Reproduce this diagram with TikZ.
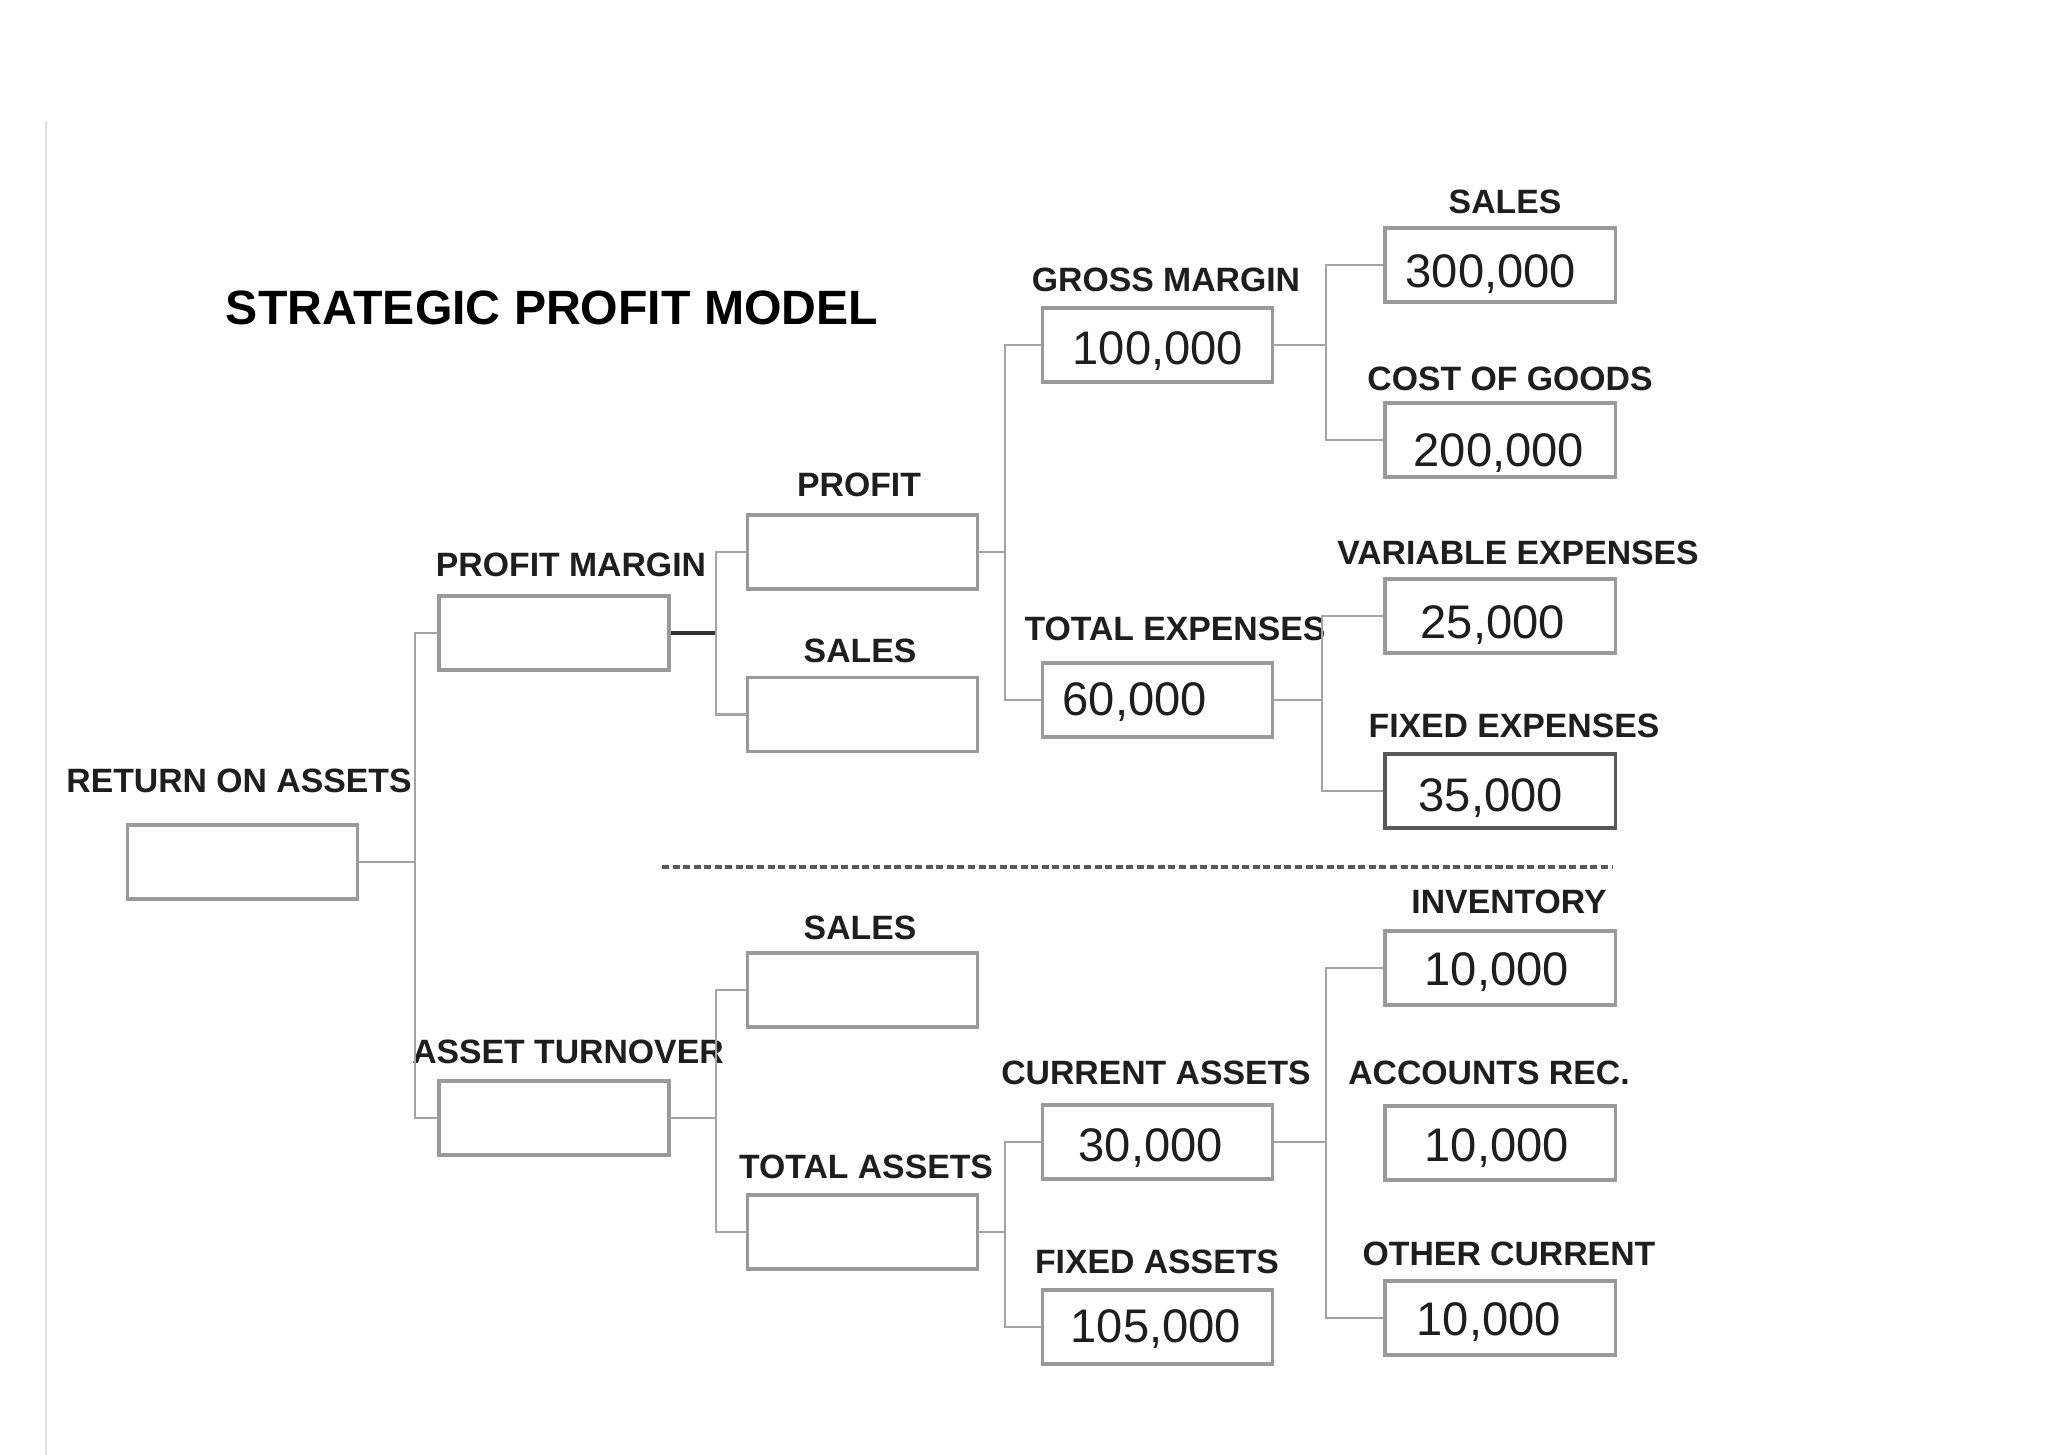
\documentclass[tikz,border=0pt]{standalone}
\usepackage{fontspec}
\setmainfont{Liberation Sans}
\definecolor{boxgray}{HTML}{9A9A9A}
\definecolor{conngray}{HTML}{A4A4A4}
\definecolor{txt}{HTML}{1E1E1E}
\begin{document}
\begin{tikzpicture}[x=0.01cm,y=-0.01cm,
  box/.style={draw=boxgray,line width=0.9pt,minimum width=2.30cm,minimum height=0.74cm,inner sep=0pt,fill=white},
  conn/.style={draw=conngray,line width=0.8pt},
  darkconn/.style={draw=black!80,line width=0.9pt},
  lbl/.style={font=\fontsize{9.6}{11}\selectfont\bfseries,text=txt,anchor=base,inner sep=0pt},
  num/.style={font=\fontsize{13.4}{16}\selectfont,text=txt,anchor=base west,inner sep=0pt},
  ttl/.style={font=\fontsize{13.7}{16}\selectfont\bfseries,text=black,anchor=base,inner sep=0pt}]
\useasboundingbox[fill=white] (0,0) rectangle (2046,1455);
% left border line
\coordinate (bt) at (46,121);
\coordinate (bb) at (46,1455);
\draw[draw=black!12,line width=0.6pt] (bt) -- (bb);
% title
\node[ttl] (title) at (552,325) {STRATEGIC PROFIT MODEL};
% boxes
\node[box] (roa) at (242.5,862) {};
\node[box] (pm) at (554,633) {};
\node[box] (at) at (554,1118) {};
\node[box] (profit) at (862.5,552) {};
\node[box] (sales1) at (862.5,714.5) {};
\node[box] (sales2) at (862.5,990) {};
\node[box] (ta) at (862.5,1232) {};
\node[box] (gm) at (1157.5,345) {};
\node[box] (te) at (1157.5,700) {};
\node[box] (ca) at (1157.5,1142) {};
\node[box] (fa) at (1157.5,1327) {};
\node[box] (s3) at (1500,265) {};
\node[box] (cog) at (1500,440) {};
\node[box] (ve) at (1500,616) {};
\node[box,draw=black!65] (fe) at (1500,791) {};
\node[box] (inv) at (1500,968) {};
\node[box] (ar) at (1500,1143) {};
\node[box] (oc) at (1500,1318) {};
% labels
\node[lbl] (lroa) at (239,792) {RETURN ON ASSETS};
\node[lbl] (lpm) at (571,576) {PROFIT MARGIN};
\node[lbl] (lat) at (568,1063) {ASSET TURNOVER};
\node[lbl] (lprofit) at (859,496) {PROFIT};
\node[lbl] (lsales1) at (860,662) {SALES};
\node[lbl] (lsales2) at (860,939) {SALES};
\node[lbl] (lta) at (866,1178) {TOTAL ASSETS};
\node[lbl] (lgm) at (1166,292) {GROSS MARGIN};
\node[lbl] (lte) at (1175,640) {TOTAL EXPENSES};
\node[lbl] (lca) at (1156,1084) {CURRENT ASSETS};
\node[lbl] (lfa) at (1157,1273) {FIXED ASSETS};
\node[lbl] (ls3) at (1505,214) {SALES};
\node[lbl] (lcog) at (1510,390) {COST OF GOODS};
\node[lbl] (lve) at (1518,564) {VARIABLE EXPENSES};
\node[lbl] (lfe) at (1514,737) {FIXED EXPENSES};
\node[lbl] (linv) at (1509,913) {INVENTORY};
\node[lbl] (lar) at (1489,1084) {ACCOUNTS REC.};
\node[lbl] (loc) at (1509,1265) {OTHER CURRENT};
% numbers
\node[num] (vs3) at (1405,288) {300,000};
\node[num] (vgm) at (1072,364) {100,000};
\node[num] (vcog) at (1413,466) {200,000};
\node[num] (vve) at (1420,638) {25,000};
\node[num] (vte) at (1062,715) {60,000};
\node[num] (vfe) at (1418,811) {35,000};
\node[num] (vinv) at (1424,985) {10,000};
\node[num] (var) at (1424,1161) {10,000};
\node[num] (voc) at (1416,1335) {10,000};
\node[num] (vca) at (1078,1161) {30,000};
\node[num] (vfa) at (1070,1342) {105,000};
% junctions
\coordinate (j1) at (415,862);
\coordinate (j2) at (716,633);
\coordinate (j3) at (716,1118);
\coordinate (j4) at (1005,552);
\coordinate (j5) at (1005,1232);
\coordinate (j6) at (1326,345);
\coordinate (j7) at (1322,700);
\coordinate (j8) at (1326,1142);
% connectors
\draw[conn] (roa.east) -- (j1);
\draw[conn] (pm.west) -| (j1);
\draw[conn] (at.west) -| (j1);
\draw[darkconn] (pm.east) -- (j2);
\draw[conn] (profit.west) -| (j2);
\draw[conn] (sales1.west) -| (j2);
\draw[conn] (at.east) -- (j3);
\draw[conn] (sales2.west) -| (j3);
\draw[conn] (ta.west) -| (j3);
\draw[conn] (profit.east) -- (j4);
\draw[conn] (gm.west) -| (j4);
\draw[conn] (te.west) -| (j4);
\draw[conn] (ta.east) -- (j5);
\draw[conn] (ca.west) -| (j5);
\draw[conn] (fa.west) -| (j5);
\draw[conn] (gm.east) -- (j6);
\draw[conn] (s3.west) -| (j6);
\draw[conn] (cog.west) -| (j6);
\draw[conn] (te.east) -- (j7);
\draw[conn] (ve.west) -| (j7);
\draw[conn] (fe.west) -| (j7);
\draw[conn] (ca.east) -- (j8);
\draw[conn] (inv.west) -| (j8);
\draw[conn] (oc.west) -| (j8);
% dashed divider
\coordinate (d1) at (662,867);
\coordinate (d2) at (1613,867);
\draw[draw=black!65,line width=0.9pt,dash pattern=on 2pt off 1pt] (d1) -- (d2);
\end{tikzpicture}
\end{document}
